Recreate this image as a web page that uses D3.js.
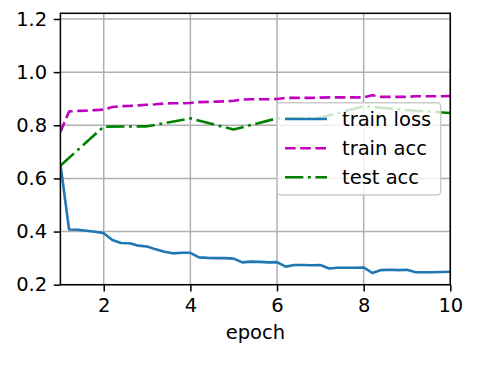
<!DOCTYPE html>
<html lang="en">
<head>
    <meta charset="UTF-8">
    <title>epoch curves</title>
    <script src="https://d3js.org/d3.v7.min.js"></script>
    <style>
        body { margin: 0; background: #fff; }
        text { font-family: "DejaVu Sans", sans-serif; }
    </style>
</head>
<body>
    <div id="chart"></div>

    <script type="text/javascript">
        // data
        var trainEpochs = [1.0, 1.2, 1.4, 1.6, 1.8, 2.0, 2.2, 2.4, 2.6, 2.8,
                           3.0, 3.2, 3.4, 3.6, 3.8, 4.0, 4.2, 4.4, 4.6, 4.8,
                           5.0, 5.2, 5.4, 5.6, 5.8, 6.0, 6.2, 6.4, 6.6, 6.8,
                           7.0, 7.2, 7.4, 7.6, 7.8, 8.0, 8.2, 8.4, 8.6, 8.8,
                           9.0, 9.2, 9.4, 9.6, 9.8, 10.0];
        var trainLoss = [0.655, 0.408, 0.407, 0.403, 0.399, 0.394, 0.368, 0.357, 0.356, 0.347,
                         0.344, 0.333, 0.324, 0.318, 0.320, 0.320, 0.303, 0.301, 0.300, 0.300,
                         0.298, 0.284, 0.287, 0.286, 0.284, 0.285, 0.268, 0.274, 0.274, 0.273,
                         0.274, 0.261, 0.264, 0.264, 0.264, 0.265, 0.244, 0.255, 0.256, 0.255,
                         0.256, 0.247, 0.247, 0.247, 0.248, 0.249];
        var trainAcc = [0.775, 0.852, 0.854, 0.855, 0.857, 0.859, 0.869, 0.872, 0.873, 0.875,
                        0.877, 0.879, 0.882, 0.883, 0.883, 0.884, 0.887, 0.888, 0.889, 0.890,
                        0.892, 0.897, 0.898, 0.898, 0.898, 0.899, 0.903, 0.903, 0.903, 0.903,
                        0.904, 0.905, 0.905, 0.905, 0.905, 0.905, 0.913, 0.907, 0.907, 0.907,
                        0.907, 0.909, 0.909, 0.909, 0.909, 0.910];
        var testEpochs = [1, 2, 3, 4, 5, 6, 7, 8, 9, 10];
        var testAcc = [0.648, 0.795, 0.796, 0.826, 0.784, 0.826, 0.828, 0.872, 0.857, 0.846];

        var xTicks = [2, 4, 6, 8, 10];
        var yTicks = [0.2, 0.4, 0.6, 0.8, 1.0, 1.2];
        var seriesNames = ["train loss", "train acc", "test acc"];

        var width = 482, height = 365;
        // plot area (pixels)
        var plotL = 60.4, plotR = 450.3, plotT = 13.3, plotB = 284.7;
        var fontSize = 19.5;

        var svg = d3.select("#chart").append("svg")
            .attr("width", width)
            .attr("height", height);

        var x = d3.scaleLinear().domain([1, 10]).range([plotL, plotR]);
        var y = d3.scaleLinear().domain([0.2, 1.2214]).range([plotB, plotT]);

        svg.append("clipPath").attr("id", "clip")
            .append("rect")
            .attr("x", plotL).attr("y", plotT)
            .attr("width", plotR - plotL).attr("height", plotB - plotT);

        // grid
        var grid = svg.append("g");
        grid.selectAll(".gx").data(xTicks).enter().append("line")
            .attr("x1", d => x(d)).attr("x2", d => x(d))
            .attr("y1", plotT).attr("y2", plotB)
            .attr("stroke", "#b0b0b0").attr("stroke-width", 1.5);
        grid.selectAll(".gy").data(yTicks).enter().append("line")
            .attr("x1", plotL).attr("x2", plotR)
            .attr("y1", d => y(d)).attr("y2", d => y(d))
            .attr("stroke", "#b0b0b0").attr("stroke-width", 1.5);

        // series
        var series = [
            { name: seriesNames[0], xs: trainEpochs, ys: trainLoss, color: "#1f77b4", dash: null },
            { name: seriesNames[1], xs: trainEpochs, ys: trainAcc, color: "#bf00bf", dash: "10.6,4.6" },
            { name: seriesNames[2], xs: testEpochs, ys: testAcc, color: "#008000", dash: "18.3,4.6,2.9,4.6" }
        ];

        var line = d3.line()
            .x(d => x(d[0]))
            .y(d => y(d[1]));

        var plot = svg.append("g").attr("clip-path", "url(#clip)");
        series.forEach(function(s) {
            plot.append("path")
                .datum(s.xs.map((v, i) => [v, s.ys[i]]))
                .attr("d", line)
                .attr("fill", "none")
                .attr("stroke", s.color)
                .attr("stroke-width", 2.6)
                .attr("stroke-dasharray", s.dash)
                .attr("stroke-linejoin", "round");
        });

        // axes
        var xAxis = svg.append("g")
            .attr("transform", "translate(0," + plotB + ")")
            .call(d3.axisBottom(x).tickValues(xTicks).tickFormat(d3.format("d"))
                .tickSize(6.7).tickPadding(6.5));
        var yAxis = svg.append("g")
            .attr("transform", "translate(" + plotL + ",0)")
            .call(d3.axisLeft(y).tickValues(yTicks).tickFormat(d3.format(".1f"))
                .tickSize(6.7).tickPadding(6.5));
        [xAxis, yAxis].forEach(function(a) {
            a.select(".domain").remove();
            a.selectAll(".tick line").attr("stroke", "#000").attr("stroke-width", 1.5);
            a.selectAll("text").attr("fill", "#000")
                .style("font-size", fontSize + "px")
                .style("font-family", "'DejaVu Sans', sans-serif");
        });

        // frame
        svg.append("rect")
            .attr("x", plotL).attr("y", plotT)
            .attr("width", plotR - plotL).attr("height", plotB - plotT)
            .attr("fill", "none").attr("stroke", "#000").attr("stroke-width", 1.5);

        svg.append("text")
            .attr("x", (plotL + plotR) / 2).attr("y", 339)
            .attr("text-anchor", "middle")
            .style("font-size", fontSize + "px")
            .text("epoch");

        // legend
        var lg = svg.append("g");
        lg.append("rect")
            .attr("x", 277.3).attr("y", 102.7)
            .attr("width", 163.4).attr("height", 92.3)
            .attr("rx", 3.5)
            .attr("fill", "#fff").attr("fill-opacity", 0.8)
            .attr("stroke", "#cccccc").attr("stroke-width", 1.5);
        var rowY = [119, 148.3, 177.3];
        series.forEach(function(s, i) {
            lg.append("line")
                .attr("x1", 285).attr("x2", 327)
                .attr("y1", rowY[i]).attr("y2", rowY[i])
                .attr("stroke", s.color)
                .attr("stroke-width", 2.6)
                .attr("stroke-dasharray", s.dash);
            lg.append("text")
                .attr("x", 342).attr("y", rowY[i])
                .attr("dy", "0.35em")
                .style("font-size", fontSize + "px")
                .text(s.name);
        });
    </script>
</body>
</html>
